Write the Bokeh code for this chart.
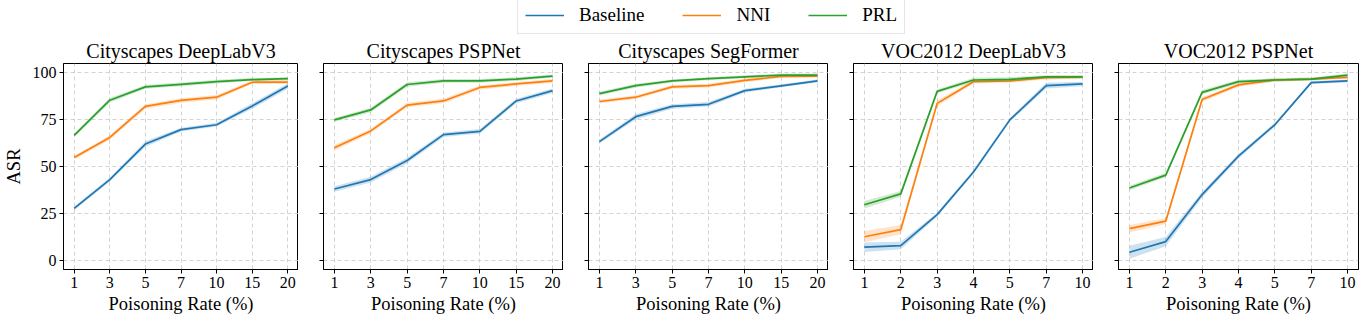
from bokeh.plotting import figure
from bokeh.layouts import row, column
from bokeh.models import Range1d, FixedTicker, Legend, LegendItem, CustomLabelingPolicy
from bokeh.embed import file_html
from bokeh.resources import INLINE

# ---------------- data ----------------
titles = ["Cityscapes DeepLabV3", "Cityscapes PSPNet", "Cityscapes SegFormer",
          "VOC2012 DeepLabV3", "VOC2012 PSPNet"]
cs_rates = ["1", "3", "5", "7", "10", "15", "20"]
voc_rates = ["1", "2", "3", "4", "5", "7", "10"]
series_names = ["Baseline", "NNI", "PRL"]
series_colors = ["#1f77b4", "#ff7f0e", "#2ca02c"]
y_ticks = [0, 25, 50, 75, 100]

cs_dlv3_baseline = [27.6, 43.0, 62.0, 69.7, 72.3, 82.3, 93.0]
cs_dlv3_nni = [54.8, 65.5, 82.1, 85.3, 87.0, 95.0, 95.1]
cs_dlv3_prl = [66.6, 85.4, 92.5, 93.9, 95.3, 96.4, 96.9]
cs_dlv3_baseline_sd = [1.0, 1.0, 1.5, 1.0, 1.0, 1.5, 1.5]
cs_dlv3_nni_sd = [1.0, 1.2, 1.2, 1.2, 1.2, 1.0, 1.0]
cs_dlv3_prl_sd = [1.0, 1.2, 1.0, 1.0, 1.0, 0.8, 0.8]

cs_psp_baseline = [38.0, 43.0, 53.2, 67.0, 68.8, 85.0, 90.5]
cs_psp_nni = [60.0, 69.0, 82.8, 85.0, 92.2, 94.1, 95.7]
cs_psp_prl = [74.9, 80.2, 93.8, 95.7, 95.7, 96.7, 98.3]
cs_psp_baseline_sd = [1.5, 1.5, 1.5, 1.2, 1.2, 1.2, 1.2]
cs_psp_nni_sd = [1.5, 1.2, 1.2, 1.2, 1.2, 1.0, 1.0]
cs_psp_prl_sd = [1.0, 1.2, 1.2, 1.0, 1.0, 1.0, 0.8]

cs_seg_baseline = [63.3, 76.6, 82.1, 83.2, 90.5, 93.1, 95.7]
cs_seg_nni = [84.7, 87.0, 92.5, 93.2, 96.0, 98.1, 98.3]
cs_seg_prl = [88.9, 93.2, 95.7, 96.9, 97.9, 98.8, 98.8]
cs_seg_baseline_sd = [1.0, 1.5, 1.2, 1.2, 1.0, 0.8, 0.8]
cs_seg_nni_sd = [1.0, 1.0, 1.0, 1.0, 1.0, 0.8, 0.8]
cs_seg_prl_sd = [1.0, 1.0, 0.8, 0.8, 0.8, 0.8, 0.8]

voc_dlv3_baseline = [6.9, 7.8, 24.3, 47.1, 74.9, 93.2, 94.1]
voc_dlv3_nni = [12.5, 16.3, 83.7, 95.3, 95.7, 97.4, 97.7]
voc_dlv3_prl = [29.6, 35.4, 90.1, 96.2, 96.5, 97.9, 97.9]
voc_dlv3_baseline_sd = [2.5, 2.0, 1.0, 1.0, 1.0, 1.5, 1.2]
voc_dlv3_nni_sd = [3.0, 2.5, 1.5, 1.0, 1.0, 1.0, 0.8]
voc_dlv3_prl_sd = [2.0, 1.5, 1.0, 1.2, 1.2, 0.8, 0.8]

voc_psp_baseline = [4.2, 9.9, 35.0, 55.5, 72.3, 94.8, 95.7]
voc_psp_nni = [16.8, 20.8, 85.8, 93.6, 96.2, 96.7, 97.6]
voc_psp_prl = [38.5, 45.4, 89.6, 95.3, 96.2, 96.7, 98.8]
voc_psp_baseline_sd = [3.5, 2.5, 1.5, 1.2, 1.0, 0.8, 0.8]
voc_psp_nni_sd = [2.0, 1.5, 1.2, 1.0, 1.0, 0.8, 0.8]
voc_psp_prl_sd = [1.2, 1.2, 1.2, 1.0, 0.8, 0.8, 0.8]

panels = [
    (cs_rates, [cs_dlv3_baseline, cs_dlv3_nni, cs_dlv3_prl],
     [cs_dlv3_baseline_sd, cs_dlv3_nni_sd, cs_dlv3_prl_sd]),
    (cs_rates, [cs_psp_baseline, cs_psp_nni, cs_psp_prl],
     [cs_psp_baseline_sd, cs_psp_nni_sd, cs_psp_prl_sd]),
    (cs_rates, [cs_seg_baseline, cs_seg_nni, cs_seg_prl],
     [cs_seg_baseline_sd, cs_seg_nni_sd, cs_seg_prl_sd]),
    (voc_rates, [voc_dlv3_baseline, voc_dlv3_nni, voc_dlv3_prl],
     [voc_dlv3_baseline_sd, voc_dlv3_nni_sd, voc_dlv3_prl_sd]),
    (voc_rates, [voc_psp_baseline, voc_psp_nni, voc_psp_prl],
     [voc_psp_baseline_sd, voc_psp_nni_sd, voc_psp_prl_sd]),
]

FONT = "Times New Roman"

figs = []
for i, (title, (rates, means, sds)) in enumerate(zip(titles, panels)):
    first = i == 0
    last = i == len(titles) - 1
    left = 58 if first else 25
    right = 4 if last else 0
    w = left + 240 + right
    p = figure(width=w, height=280, output_backend="svg", toolbar_location=None,
               x_range=Range1d(-0.3, len(rates) - 0.7), y_range=Range1d(-5, 105),
               min_border_left=left, min_border_right=right,
               min_border_top=27, min_border_bottom=44)
    xs = list(range(len(rates)))
    for m, s, c in zip(means, sds, series_colors):
        lo = [a - b for a, b in zip(m, s)]
        hi = [a + b for a, b in zip(m, s)]
        p.varea(x=xs, y1=lo, y2=hi, fill_color=c, fill_alpha=0.22)
        p.line(x=xs, y=m, line_color=c, line_width=1.7)

    p.title.text = title
    p.title.align = "center"
    p.title.text_font = FONT
    p.title.text_font_style = "normal"
    p.title.text_font_size = "20px"
    p.title.text_color = "black"
    p.title.standoff = 3

    p.xaxis.ticker = FixedTicker(ticks=xs)
    p.xaxis.major_label_overrides = {k: r for k, r in zip(xs, rates)}
    p.yaxis.ticker = FixedTicker(ticks=y_ticks)
    p.xaxis.axis_label = "Poisoning Rate (%)"

    for ax in (p.xaxis[0], p.yaxis[0]):
        ax.axis_label_text_font = FONT
        ax.axis_label_text_font_style = "normal"
        ax.axis_label_text_font_size = "18.5px"
        ax.axis_label_text_color = "black"
        ax.axis_label_standoff = 3
        ax.major_label_text_font = FONT
        ax.major_label_text_font_size = "16px"
        ax.major_label_text_color = "black"
        ax.major_label_standoff = 3
        ax.major_tick_out = 4
        ax.major_tick_in = 0
        ax.minor_tick_out = 0
        ax.minor_tick_in = 0
        ax.axis_line_color = "black"
        ax.major_tick_line_color = "black"
    if first:
        p.yaxis.axis_label = "ASR"
        p.yaxis.axis_label_standoff = 6
    else:
        p.yaxis.major_label_text_font_size = "0px"
        p.yaxis.major_label_policy = CustomLabelingPolicy(
            code="for (const i of indices) { indices.unset(i) }\nreturn indices")

    p.grid.grid_line_color = "#c8c8c8"
    p.grid.grid_line_dash = "4 3"
    p.grid.grid_line_width = 0.8
    p.xgrid.ticker = FixedTicker(ticks=xs)
    p.ygrid.ticker = FixedTicker(ticks=y_ticks)
    p.outline_line_color = "black"
    p.outline_line_width = 1
    p.outline_line_alpha = 1
    figs.append(p)

# legend strip (hidden copies of the middle panel's series feed the legend)
lg = figure(width=1362, height=36, output_backend="svg", toolbar_location=None,
            x_range=Range1d(-0.3, len(cs_rates) - 0.7), y_range=Range1d(-5, 105),
            x_axis_location=None, y_axis_location=None,
            min_border_left=0, min_border_right=0, min_border_top=0, min_border_bottom=0)
lg.grid.visible = False
lg.outline_line_color = None
items = []
for name, c, m in zip(series_names, series_colors, panels[2][1]):
    r = lg.line(x=list(range(len(cs_rates))), y=m, line_color=c, line_width=1.7,
                visible=False)
    items.append(LegendItem(label=name, renderers=[r]))
legend = Legend(items=items, orientation="horizontal", location=(517, 2),
                label_text_font=FONT, label_text_font_size="19px",
                label_text_color="black",
                glyph_width=39, glyph_height=18, label_standoff=15, spacing=38,
                padding=7, margin=0, border_line_color="#cccccc",
                border_line_width=1, background_fill_alpha=1)
lg.add_layout(legend, "center")

layout = column(lg, row(*figs, spacing=0), spacing=0)
open("out.html", "w").write(file_html(layout, INLINE))
